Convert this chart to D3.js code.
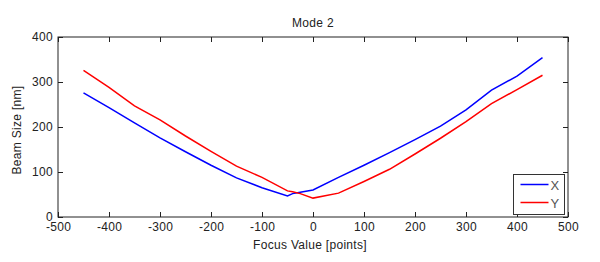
<!DOCTYPE html>
<html>
<head>
<meta charset="utf-8">
<script src="https://cdn.jsdelivr.net/npm/d3@7"></script>
<style>
  body { margin: 0; background: #fff; }
  svg { font-family: "Liberation Sans", Arial, sans-serif; }
  .tick text { font-size: 12px; fill: #222; letter-spacing: 0.3px; }
  .tick line { stroke: #222; }
  .lbl { font-size: 12px; fill: #222; letter-spacing: 0.3px; }
</style>
</head>
<body>
<div id="chart"></div>
<script>
// focus values (points) and beam sizes (nm)
var focus = [-450, -400, -350, -300, -250, -200, -150, -100, -50, -40, -25, 0, 50, 100, 150, 200, 250, 300, 350, 400, 450];
var sizeX = [276, 243, 209, 176, 145, 115, 87, 65, 47, 52, 55, 60, 88, 115, 143, 172, 202, 238, 282, 313, 354];
var sizeY = [326, 288, 247, 216, 180, 146, 113, 88, 58, 56, 52, 42, 53, 79, 106, 140, 175, 212, 252, 283, 315];
var seriesNames = ["X", "Y"];
var seriesColors = ["#0000ff", "#ff0000"];
var xTicks = [-500, -400, -300, -200, -100, 0, 100, 200, 300, 400, 500];
var yTicks = [0, 100, 200, 300, 400];

var width = 600, height = 262;
var plotL = 58, plotR = 568, plotT = 37, plotB = 217;

var svg = d3.select("#chart").append("svg")
    .attr("width", width)
    .attr("height", height);

var x = d3.scaleLinear().domain([-500, 500]).range([plotL, plotR]);
var y = d3.scaleLinear().domain([0, 400]).range([plotB, plotT]);
var plain = function (d) { return String(d); }; // keep hyphen minus like the original

// axes with inward ticks, MATLAB style box
svg.append("g")
    .attr("transform", "translate(0," + plotB + ")")
    .call(d3.axisBottom(x).tickValues(xTicks).tickSize(-5).tickSizeOuter(0).tickPadding(5).tickFormat(plain))
    .call(g => g.select(".domain").remove());
svg.append("g")
    .attr("transform", "translate(0," + plotT + ")")
    .call(d3.axisTop(x).tickValues(xTicks).tickSize(-5).tickSizeOuter(0).tickFormat(""))
    .call(g => g.select(".domain").remove());
svg.append("g")
    .attr("transform", "translate(" + plotL + ",0)")
    .call(d3.axisLeft(y).tickValues(yTicks).tickSize(-5).tickSizeOuter(0).tickPadding(5).tickFormat(plain))
    .call(g => g.select(".domain").remove());
svg.append("g")
    .attr("transform", "translate(" + plotR + ",0)")
    .call(d3.axisRight(y).tickValues(yTicks).tickSize(-5).tickSizeOuter(0).tickFormat(""))
    .call(g => g.select(".domain").remove());

svg.append("rect")
    .attr("x", plotL).attr("y", plotT)
    .attr("width", plotR - plotL).attr("height", plotB - plotT)
    .attr("fill", "none").attr("stroke", "#222");

// the two curves
var line = d3.line()
    .x(function (d) { return x(d[0]); })
    .y(function (d) { return y(d[1]); });

[sizeX, sizeY].forEach(function (vals, i) {
    svg.append("path")
        .datum(focus.map(function (f, j) { return [f, vals[j]]; }))
        .attr("d", line)
        .attr("fill", "none")
        .attr("stroke", seriesColors[i])
        .attr("stroke-width", 1.5);
});

// title and labels
svg.append("text").attr("class", "lbl")
    .attr("x", (plotL + plotR) / 2).attr("y", 27)
    .attr("text-anchor", "middle")
    .text("Mode 2");
svg.append("text").attr("class", "lbl")
    .attr("x", (plotL + plotR) / 2 - 3).attr("y", 249)
    .attr("text-anchor", "middle")
    .text("Focus Value [points]");
svg.append("text").attr("class", "lbl")
    .attr("transform", "translate(21," + ((plotT + plotB) / 2 + 3) + ") rotate(-90)")
    .attr("text-anchor", "middle")
    .text("Beam Size [nm]");

// legend
var legend = svg.append("g").attr("transform", "translate(513.5,174.5)");
legend.append("rect")
    .attr("width", 51).attr("height", 40)
    .attr("fill", "#fff").attr("stroke", "#333");
seriesNames.forEach(function (name, i) {
    var ly = 10 + i * 18;
    legend.append("line")
        .attr("x1", 7).attr("x2", 35)
        .attr("y1", ly).attr("y2", ly)
        .attr("stroke", seriesColors[i]).attr("stroke-width", 1.5);
    legend.append("text")
        .attr("x", 37).attr("y", ly + 5)
        .style("font-size", "13px").attr("fill", "#555")
        .text(name);
});
</script>
</body>
</html>
